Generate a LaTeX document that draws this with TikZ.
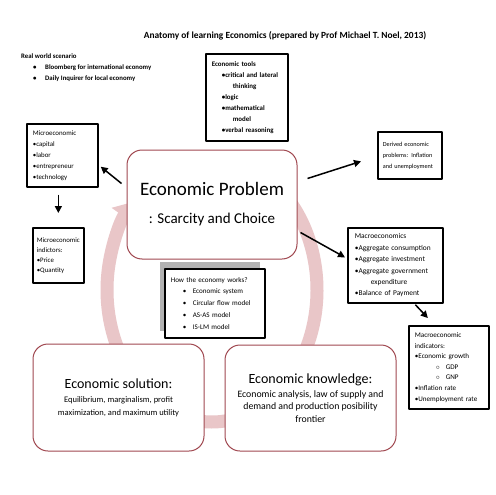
\documentclass[tikz,border=0pt]{standalone}
\usepackage{fontspec}
\setmainfont{Carlito}
\usetikzlibrary{arrows.meta}
\definecolor{probred}{RGB}{160,72,80}
\definecolor{ringpink}{RGB}{233,198,200}
\definecolor{shadowgray}{RGB}{178,178,178}
\tikzset{
  blackbox/.style={draw, line width=1.7pt, fill=white, anchor=north west, align=left, inner ysep=0pt},
  cyclebox/.style={draw=probred, line width=1pt, fill=white, rounded corners=15pt, align=center, inner sep=0pt},
  scen/.style={font=\bfseries\fontsize{6.8}{8}\selectfont, inner sep=0pt, anchor=west},
  arr/.style={->, line width=1.5pt}
}
\begin{document}
\begin{tikzpicture}[x=1pt, y=-1pt, >={Triangle[length=7pt,width=7pt]}, line join=round]
\useasboundingbox (0,0) rectangle (495,495);
\fill[white] (0,0) rectangle (495,495);
% the cycle ring behind the boxes
\draw[ringpink, line width=13pt, -{Triangle[length=18pt,width=28pt]}]
  (212,290) ++(-50:105 and 132) arc[start angle=-50, end angle=222, x radius=105, y radius=132];
% heading and scenario
\node[font=\bfseries\fontsize{9.4}{11}\selectfont] (title) at (285,36) {Anatomy of learning Economics (prepared by Prof Michael T. Noel, 2013)};
\node[scen] (scen) at (21,56) {Real world scenario};
\node[scen] (bloom) at (33,68) {\makebox[12pt][l]{•}Bloomberg for international economy};
\node[scen] (daily) at (33,79) {\makebox[12pt][l]{•}Daily Inquirer for local economy};
% small boxes
\node[blackbox, text width=70pt, inner xsep=6pt, minimum height=87pt, font=\bfseries\fontsize{6.9}{11}\selectfont] (tools) at (205,53)
  {Economic tools\\ \hspace*{10pt}•critical and lateral\\ \hspace*{21pt}thinking\\ \hspace*{10pt}•logic\\ \hspace*{10pt}•mathematical\\ \hspace*{21pt}model\\ \hspace*{10pt}•verbal reasoning};
\node[blackbox, text width=59pt, inner xsep=6pt, minimum height=63pt, font=\fontsize{6.9}{11}\selectfont] (micro) at (26,123)
  {Microeconomic\\ •capital\\ •labor\\ •entrepreneur\\ •technology};
\node[blackbox, text width=43pt, inner xsep=4pt, minimum height=55pt, font=\fontsize{6.8}{10}\selectfont] (microind) at (32,227)
  {Microeconomic\\ indictors:\\ •Price\\ •Quantity};
\node[blackbox, text width=54pt, inner xsep=5pt, minimum height=47pt, font=\fontsize{6.2}{11}\selectfont] (derived) at (377,131)
  {Derived economic\\ problems: Inflation\\ and unemployment};
\node[blackbox, text width=81pt, inner xsep=7pt, minimum height=75pt, font=\fontsize{7.4}{11.4}\selectfont] (macro) at (347,227)
  {Macroeconomics\\ •Aggregate consumption\\ •Aggregate investment\\ •Aggregate government\\ \hspace*{16pt}expenditure\\ •Balance of Payment};
\node[blackbox, text width=68pt, inner xsep=6pt, minimum height=83pt, font=\fontsize{7.1}{10.6}\selectfont] (macroind) at (408,325)
  {Macroeconomic\\ indicators:\\ •Economic growth\\ \hspace*{21pt}\makebox[10pt][l]{$\circ$}GDP\\ \hspace*{21pt}\makebox[10pt][l]{$\circ$}GNP\\ •Inflation rate\\ •Unemployment rate};
\fill[shadowgray] (160,262) rectangle (260,331);
\node[blackbox, text width=88pt, inner xsep=6pt, minimum height=69pt, font=\fontsize{7.1}{11.8}\selectfont] (how) at (164,268)
  {How the economy works?\\ \hspace*{12pt}\makebox[10pt][l]{•}Economic system\\ \hspace*{12pt}\makebox[10pt][l]{•}Circular flow model\\ \hspace*{12pt}\makebox[10pt][l]{•}AS-AS model\\ \hspace*{12pt}\makebox[10pt][l]{•}IS-LM model};
% the cycle
\node[cyclebox, minimum width=170pt, minimum height=109pt, font=\fontsize{15}{28}\selectfont] (prob) at (212,204.5)
  {{\fontsize{19}{23}\selectfont Economic Problem}\\: Scarcity and Choice};
\node[cyclebox, minimum width=171pt, minimum height=107pt, font=\fontsize{8.5}{13}\selectfont] (sol) at (118.5,397.5)
  {{\fontsize{14}{16}\selectfont Economic solution:}\\[1pt]Equilibrium, marginalism, profit\\maximization, and maximum utility};
\node[cyclebox, minimum width=171pt, minimum height=106pt, font=\fontsize{9.8}{12.5}\selectfont] (know) at (310.5,398)
  {{\fontsize{14}{16}\selectfont Economic knowledge:}\\[1pt]Economic analysis, law of supply and\\demand and production posibility\\frontier};
% connectors
\draw[arr] ([shift={(-5,-21)}]prob.west) -- ([shift={(2,-21)}]micro.south east);
\draw[arr] ([shift={(-4,7)}]micro.south) -- ([shift={(0,-14)}]microind.north);
\draw[arr] ([shift={(10,-26)}]prob.east) -- ([shift={(-16,6)}]derived.west);
\draw[arr] ([shift={(3,-27)}]prob.south east) -- ([shift={(-2,-8)}]macro.west);
\draw[arr] ([shift={(20,1)}]macro.south) -- ([shift={(-21,-7)}]macroind.north);
\end{tikzpicture}
\end{document}
